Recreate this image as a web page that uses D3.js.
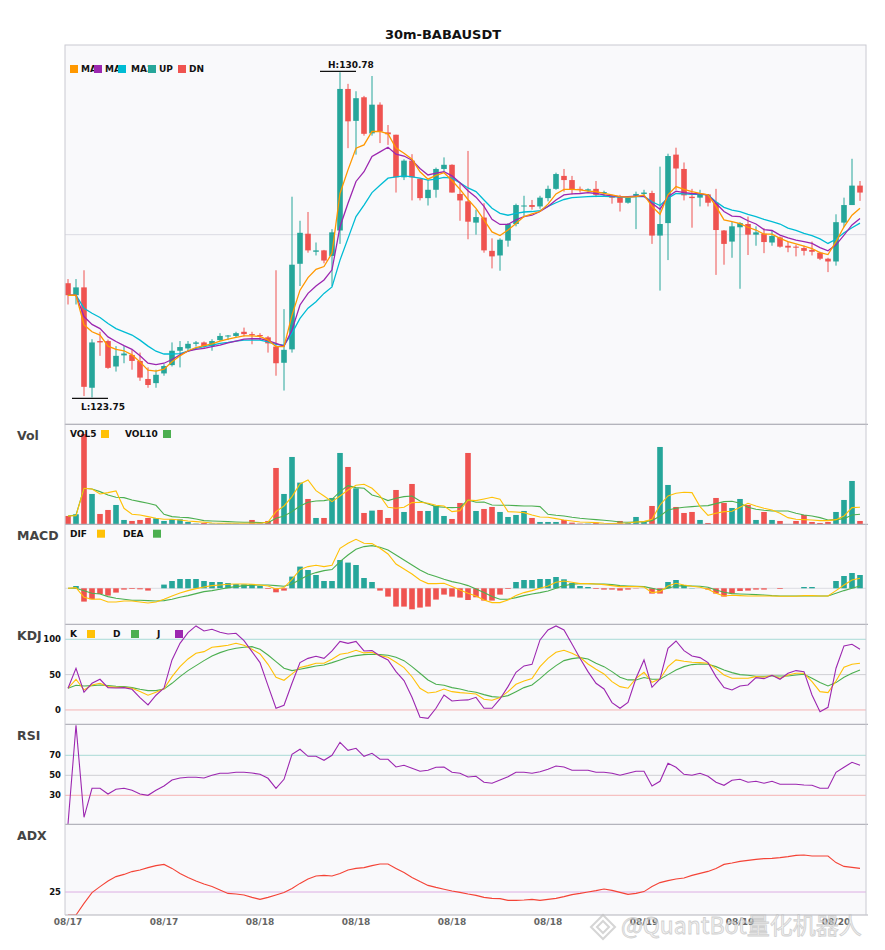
<!DOCTYPE html>
<html><head><meta charset="utf-8">
<script src="https://cdn.jsdelivr.net/npm/d3@7/dist/d3.min.js"></script>
<style>body{margin:0;background:#fff;} svg{display:block;font-family:"DejaVu Sans",sans-serif;}</style>
</head><body><svg id="c" width="885" height="950"></svg>
<script>
const chartTitle = "30m-BABAUSDT";
const opens = [126.22,125.96,126.13,123.96,124.97,124.97,124.42,124.66,124.67,124.54,124.15,124.06,124.27,124.45,124.76,124.81,124.91,124.94,124.86,124.99,125.07,125.08,125.17,125.12,125.10,125.05,124.85,124.50,124.79,126.64,127.29,126.90,126.93,126.81,127.36,130.42,129.73,130.24,129.46,130.08,129.48,129.43,128.51,128.87,128.48,128.06,128.24,128.69,128.78,128.15,127.99,127.53,127.64,126.92,126.82,127.14,127.50,127.88,127.91,127.88,128.06,128.26,128.54,128.45,128.26,128.22,128.26,128.17,128.09,128.09,127.96,128.11,128.15,128.17,127.25,127.52,129.00,128.69,128.09,128.07,128.14,127.96,127.36,127.12,127.43,127.50,127.27,127.29,127.10,127.21,127.03,127.01,126.98,126.94,126.88,126.75,126.69,127.53,127.91,128.33];
const highs = [126.31,126.31,126.50,125.01,125.17,125.00,124.86,124.86,124.78,124.72,124.40,124.35,124.47,124.94,124.97,124.97,124.97,124.96,125.01,125.14,125.10,125.17,125.26,125.17,125.14,125.08,126.50,125.66,128.09,127.57,127.76,127.10,126.94,127.39,130.78,130.53,130.37,130.27,130.70,130.13,129.64,129.43,128.90,129.01,128.48,128.45,128.72,128.94,128.79,128.38,129.08,127.81,127.95,127.19,127.19,127.52,127.94,128.11,128.02,128.11,128.33,128.61,128.69,128.54,128.31,128.27,128.43,128.22,128.13,128.13,128.09,128.20,128.24,128.22,128.74,129.02,129.15,128.83,128.26,128.24,128.14,128.26,127.37,127.55,127.54,127.66,127.45,127.41,127.37,127.23,127.12,127.05,127.03,127.12,126.90,126.77,127.71,128.07,128.91,128.43];
const lows = [125.76,125.76,123.78,123.75,124.65,124.37,124.31,124.49,124.35,124.11,123.96,123.96,124.22,124.42,124.40,124.74,124.85,124.80,124.76,124.97,124.99,125.05,125.07,124.90,124.99,124.72,124.22,123.90,124.72,126.16,126.88,126.82,126.65,126.16,127.07,129.14,129.00,129.41,129.41,129.25,129.21,128.18,128.45,128.01,128.01,127.90,128.07,128.63,128.18,127.57,127.17,127.27,126.88,126.54,126.49,127.01,127.45,127.66,127.81,127.83,127.99,128.24,128.20,128.14,128.18,128.20,128.08,128.09,127.94,127.77,127.94,127.39,128.08,127.07,126.06,126.72,128.24,128.01,127.42,127.88,127.88,126.40,126.62,126.77,126.10,126.83,127.03,126.87,127.03,126.99,126.89,126.80,126.82,126.82,126.72,126.46,126.60,127.43,127.91,128.00];
const closes = [125.96,126.13,123.98,124.94,124.94,124.39,124.65,124.70,124.54,124.18,124.02,124.24,124.43,124.76,124.84,124.91,124.94,124.86,124.97,125.08,125.09,125.14,125.12,125.10,125.08,124.92,124.49,124.78,126.62,127.31,126.93,126.93,126.71,127.32,130.42,129.72,130.22,129.45,130.08,129.50,129.44,128.51,128.87,128.51,128.06,128.24,128.69,128.78,128.18,128.01,127.55,127.65,126.93,126.80,127.16,127.50,127.91,127.90,127.87,128.07,128.26,128.58,128.45,128.24,128.24,128.25,128.13,128.19,128.07,127.96,128.07,128.15,128.18,127.25,127.50,128.97,128.70,128.12,128.06,128.14,127.96,127.37,127.07,127.45,127.52,127.27,127.32,127.11,127.24,127.01,126.99,126.99,126.92,126.90,126.75,126.69,127.54,127.91,128.33,128.18];
const ma5 = [125.96,125.96,125.32,125.17,125.10,124.86,124.79,124.76,124.67,124.52,124.34,124.32,124.36,124.52,124.65,124.76,124.83,124.87,124.91,124.97,125.01,125.05,125.08,125.08,125.07,124.99,124.85,124.85,125.53,126.07,126.34,126.52,126.58,126.87,128.16,128.67,129.14,129.21,129.50,129.50,129.45,129.14,129.03,128.90,128.63,128.47,128.55,128.61,128.44,128.25,128.03,127.84,127.59,127.33,127.25,127.37,127.51,127.66,127.72,127.77,127.93,128.15,128.25,128.25,128.24,128.21,128.20,128.16,128.13,128.09,128.08,128.09,128.13,127.88,127.71,128.13,128.31,128.25,128.20,128.16,128.13,127.88,127.59,127.55,127.51,127.43,127.37,127.28,127.28,127.19,127.12,127.07,127.02,126.97,126.88,126.84,127.12,127.44,127.69,127.84];
const ma10 = [125.96,125.96,125.50,125.33,125.24,125.06,124.96,124.87,124.79,124.65,124.49,124.46,124.49,124.57,124.67,124.75,124.79,124.81,124.85,124.88,124.93,124.97,125.01,125.02,125.02,124.98,124.92,124.86,125.21,125.75,126.00,126.16,126.29,126.51,127.44,127.95,128.42,128.63,128.96,129.06,129.16,129.01,128.97,128.88,128.70,128.56,128.60,128.63,128.54,128.39,128.22,128.08,127.88,127.60,127.49,127.49,127.59,127.66,127.69,127.77,127.88,128.02,128.13,128.15,128.16,128.18,128.16,128.13,128.11,128.09,128.09,128.10,128.10,127.95,127.82,128.09,128.21,128.18,128.16,128.15,128.13,127.95,127.77,127.67,127.66,127.57,127.50,127.38,127.36,127.26,127.20,127.15,127.12,127.08,126.99,126.92,127.05,127.26,127.48,127.62];
const ma20 = [125.96,125.96,125.68,125.57,125.48,125.35,125.24,125.17,125.10,124.99,124.86,124.75,124.69,124.69,124.70,124.75,124.81,124.85,124.88,124.92,124.94,124.97,124.99,124.99,124.99,124.95,124.90,124.88,125.14,125.46,125.68,125.82,126.00,126.14,126.72,127.19,127.66,127.91,128.18,128.34,128.49,128.52,128.54,128.52,128.49,128.45,128.47,128.51,128.49,128.39,128.28,128.20,128.02,127.84,127.73,127.69,127.73,127.76,127.77,127.79,127.88,127.96,128.03,128.07,128.08,128.09,128.10,128.10,128.09,128.08,128.08,128.09,128.10,127.98,127.90,128.06,128.16,128.15,128.14,128.14,128.13,127.98,127.86,127.80,127.77,127.71,127.66,127.60,127.55,127.50,127.41,127.36,127.30,127.25,127.18,127.08,127.17,127.31,127.42,127.52];
const volumes = [833,1000,9033,3033,1033,1433,1933,433,333,433,633,600,333,500,500,233,67,133,67,67,67,67,33,433,100,333,5633,3033,6733,4167,2533,633,633,2633,7133,5733,3600,1133,1367,1433,633,3433,1233,4033,1333,1333,1833,833,533,2133,7133,1333,1533,1733,1233,733,933,1333,633,233,233,233,433,167,67,67,167,33,33,333,133,733,233,1833,7733,3933,1733,1133,1233,433,133,2633,2133,1633,2533,1933,433,1233,433,333,33,333,933,233,133,233,1233,2433,4333,333];
const vol5 = [833,867,3600,3533,3033,3167,3333,1600,1000,933,767,600,500,500,433,333,267,200,133,100,100,100,100,100,100,233,1267,1833,2767,4033,4433,3367,2833,2267,2833,3433,3900,4000,3600,2833,1700,1600,1700,2167,2200,2100,1900,1833,1267,1367,2433,2367,2533,2700,2500,1267,1233,1167,933,733,700,567,433,333,233,200,167,100,67,100,133,233,267,500,1933,2833,3100,3200,3167,1767,900,1100,1267,1300,1700,2100,1833,1600,1433,1100,667,500,467,433,367,367,467,833,1667,1700];
const vol10 = [833,933,3600,3533,3267,2933,2700,2667,2433,2267,2100,1900,1000,767,700,667,533,367,333,300,267,233,200,200,167,167,600,833,1267,1833,2200,2333,2367,2500,3267,3867,3667,3600,2933,2700,2367,2600,2767,2833,2333,2033,1767,1700,1667,1700,2433,2200,2233,1933,1900,1900,1867,1833,1833,1767,1000,900,833,700,600,533,467,400,333,233,200,233,267,367,833,1433,1600,1700,1767,1833,1867,2067,2267,2300,2100,1700,1500,1400,1333,1333,1333,1100,933,833,667,433,467,567,933,1000];
const macdHist = [0,0.023,-0.133,-0.11,-0.057,-0.073,-0.043,-0.013,-0.007,-0.01,-0.023,0,0.037,0.073,0.093,0.093,0.093,0.073,0.063,0.063,0.053,0.043,0.04,0.04,0.023,-0.007,-0.04,-0.023,0.117,0.217,0.183,0.133,0.073,0.073,0.283,0.257,0.233,0.103,0.063,-0.023,-0.083,-0.183,-0.183,-0.21,-0.193,-0.183,-0.113,-0.063,-0.083,-0.093,-0.117,-0.09,-0.123,-0.123,-0.063,-0.007,0.063,0.083,0.083,0.093,0.093,0.113,0.09,0.053,0.023,0.013,-0.007,-0.013,-0.013,-0.023,-0.013,-0.003,0,-0.053,-0.053,0.063,0.083,0.033,0.003,0,-0.013,-0.053,-0.083,-0.053,-0.027,-0.023,-0.013,-0.013,0,-0.007,0,0,0.013,0.013,0,0,0.073,0.123,0.153,0.133];
const dif = [0,0.007,-0.09,-0.11,-0.107,-0.137,-0.137,-0.127,-0.127,-0.137,-0.147,-0.137,-0.11,-0.077,-0.047,-0.023,-0.003,0.013,0.027,0.033,0.04,0.043,0.043,0.04,0.033,0.023,-0.007,0.007,0.09,0.187,0.217,0.23,0.217,0.23,0.4,0.45,0.49,0.45,0.447,0.4,0.343,0.243,0.193,0.143,0.083,0.047,0.047,0.05,0.017,-0.017,-0.05,-0.077,-0.117,-0.143,-0.143,-0.117,-0.073,-0.043,-0.023,0,0.023,0.06,0.073,0.06,0.047,0.047,0.043,0.037,0.027,0.017,0.017,0.017,0.013,-0.043,-0.033,0.023,0.05,0.033,0.02,0.01,-0.01,-0.05,-0.077,-0.07,-0.073,-0.077,-0.077,-0.077,-0.077,-0.08,-0.08,-0.08,-0.073,-0.073,-0.077,-0.077,-0.023,0.033,0.083,0.1];
const dea = [0,0,-0.025,-0.05,-0.057,-0.083,-0.1,-0.11,-0.12,-0.12,-0.123,-0.127,-0.123,-0.11,-0.09,-0.073,-0.053,-0.033,-0.023,-0.01,0.007,0.017,0.027,0.03,0.033,0.033,0.027,0.02,0.043,0.087,0.13,0.157,0.177,0.187,0.267,0.333,0.39,0.417,0.427,0.41,0.383,0.333,0.283,0.233,0.183,0.143,0.117,0.09,0.067,0.05,0.027,-0.007,-0.043,-0.083,-0.11,-0.11,-0.093,-0.073,-0.057,-0.043,-0.027,0,0.027,0.04,0.047,0.047,0.043,0.043,0.037,0.027,0.023,0.02,0.017,0,-0.017,0,0.023,0.027,0.023,0.02,0.01,-0.017,-0.04,-0.053,-0.057,-0.06,-0.063,-0.067,-0.073,-0.077,-0.077,-0.077,-0.077,-0.077,-0.077,-0.077,-0.05,-0.023,0,0.023];
const kLine = [30.7,43.4,28.3,35.4,37.7,33,32,32,30.7,26,20.8,25,30,47.2,61.3,72.2,80.2,82.5,88.7,90,91.5,94.3,91.5,85.8,79.2,64.6,46.2,42,51,60,62.7,66,66,71.7,78.8,80.7,84.4,80.7,81.6,76.9,74.5,67.5,60,47,30.7,24,25.5,29.7,25.9,24.5,23.6,22.6,15.1,13.7,17.5,25.9,36.3,41,44.3,61.3,73.1,81.6,84.4,80.2,74.5,65.1,57.5,51,40.1,33,30.7,44.8,53.3,39.2,43.9,61.3,70.8,68.9,67.5,67,66,58.5,49.5,44.8,44.8,44.8,47.2,46.2,49,44.8,49.5,51.9,51.9,40.1,25.9,24.5,41,60.4,64.6,66];
const dLine = [30.7,34.9,34,34.4,35.4,34.4,33.5,33,31.6,29.2,27.4,27.4,29.5,37.7,47.2,55.7,62.7,69.8,76.4,81.1,84.9,87.3,88.7,89.6,85.8,77.8,68.4,59,55.7,57.5,59.9,62.3,63.7,67,70.8,74.5,76.9,78.3,78.8,78.3,77.4,74.5,69.8,61.3,51.9,42.5,36.3,34.9,31.6,29.7,26.9,25,21.7,18.9,17.9,20.3,25.9,31.6,35.4,44.3,54.2,62.7,69.8,72.6,74.1,72.2,66,61.3,54.2,46.2,42.5,42.5,45.8,43.4,43.4,50,56.6,61.3,64.2,65.1,64.6,61.3,56.6,52.8,50,49,47.6,47.6,48.1,48.1,48.1,49.5,50.5,44.8,38.7,34,38.7,46.2,51.9,56.6];
const jLine = [30.7,59,25,37.7,43.4,31.6,31.1,31.6,29.2,17.5,7.1,20.8,31,70.8,94.3,109.4,118.9,111.8,114.2,109.9,107.5,108.5,98.1,82.5,67,34.4,2.4,6.6,37.7,67,73,76,73,83.5,97,94.3,97,83.5,84,76.4,70.8,54.2,41.5,17.9,-10.4,-11.8,2.4,21.2,12.7,13.7,14.2,17.9,2.4,2.4,15.6,33,53.3,62.3,64.6,99.1,113.2,118.9,113.2,93.4,73.1,54.2,37.7,29.7,10.4,2.4,10.8,44.8,70.8,32.1,43.9,87.3,97.6,84,76.4,74.1,67,47.2,31.6,28.3,34,35.4,45.8,44.3,49,43.4,51.9,55.7,54.2,21.2,-2.4,3.8,59,90.6,92.9,85.8];
const rsi = [1.3,100,8,37,37,31.3,36,37,35,31.3,30,35,39.3,45.3,47.3,48,48,47.3,50,52,52,53,53,52.3,51,47,37,46,71,76,69,69,65,70,83,75,77,69,72,66,66,58.3,60,57,54,55,58,58.3,53,52,48.3,49,43,42,45.3,48.6,53,53,52,53.6,56,59.3,58.3,55,55,55,53,53,52,50,52,54,54,39.3,44,62,58,51,50,52,49,43,40,45,46,43,44,42,44,41,41,41,40.3,40,37,37,53,58,63,60];
const adx = [13.5,13.5,19.3,24.7,27.7,30.5,32.7,33.8,35.2,36,37.2,38.2,38.8,36.8,34.3,32.3,30.5,29,27.7,26,24.3,24,23.5,22.3,21.3,22.3,23.5,24.7,26.8,29.3,31.5,33,33.3,33,34.3,36,36.8,37.2,38.2,39,39,36.8,34.7,32.3,30.2,28.3,27.3,26.4,25.5,24.8,24,23.3,22.3,21.8,21.7,20.8,20.8,21,21.3,20.8,21.3,21.8,22.7,23.7,24.3,25,25.7,26.5,25.8,24.8,23.8,24.3,25.2,27.7,29.7,30.7,31.5,32,33.3,34.3,35.3,36.8,38.8,39.5,40.3,40.8,41.3,41.7,41.8,42.2,42.7,43.3,43.5,43,43,43,39.7,37.8,37.3,36.8];
const xTickIdx = [0,12,24,36,48,60,72,84,96];
const xTickLabels = ["08/17","08/17","08/18","08/18","08/18","08/18","08/19","08/19","08/20"];
const kdjRefs = [100,50,0];
const rsiRefs = [70,50,30];
const adxRefs = [25];

const UP="#26a69a", DN="#ef5350";
const C_MA5="#ff9800", C_MA10="#9c27b0", C_MA20="#00bcd4", C_Y="#ffc107", C_G="#4caf50", C_P="#9c27b0", C_ADX="#f44336";
const LX=65, RX=866;
const P = {main:[45,424.3], vol:[424.3,524.3], macd:[524.3,624.3], kdj:[624.3,724.3], rsi:[724.3,824.3], adx:[824.3,915]};

const svg = d3.select("#c");
const n = closes.length;
const x = d3.scaleBand().domain(d3.range(n)).range([64,864]).paddingInner(0.3).paddingOuter(0.15);
const cx = i => x(i) + x.bandwidth()/2;
const bw = x.bandwidth();

const yMain = d3.scaleLinear().domain([123.17,131.37]).range([P.main[1],P.main[0]]);
const yVol = d3.scaleLinear().domain([0,10000]).range([P.vol[1],P.vol[0]]);
const yMacd = d3.scaleLinear().domain([-0.36,0.64]).range([P.macd[1],P.macd[0]]);
const yKdj = d3.scaleLinear().domain([-20.3,121.2]).range([P.kdj[1],P.kdj[0]]);
const yRsi = d3.scaleLinear().domain([1,101]).range([P.rsi[1],P.rsi[0]]);
const yAdx = d3.scaleLinear().domain([13.5,58.85]).range([P.adx[1],P.adx[0]]);

svg.append("text").attr("x",443).attr("y",39).attr("text-anchor","middle")
  .attr("font-size",13).attr("font-weight","bold").attr("fill","#111").text(chartTitle);

const defs = svg.append("defs");
Object.entries(P).forEach(([k,[t,b]])=>{
  svg.append("rect").attr("x",LX).attr("y",t).attr("width",RX-LX).attr("height",b-t).attr("fill","#f9f9fb");
  defs.append("clipPath").attr("id","clip-"+k).append("rect").attr("x",LX).attr("y",t).attr("width",RX-LX).attr("height",b-t);
});
const layer = k => svg.append("g").attr("clip-path",`url(#clip-${k})`);
const line = (yS) => d3.line().x((d,i)=>cx(i)).y(d=>yS(d));

// main
const gm = layer("main");
const midP = d3.mean(yMain.domain());
gm.append("line").attr("x1",LX).attr("x2",RX).attr("y1",yMain(midP)).attr("y2",yMain(midP)).attr("stroke","#dcdce4");
const candles = gm.append("g").selectAll("g").data(d3.range(n)).join("g");
candles.append("line").attr("x1",cx).attr("x2",cx).attr("y1",i=>yMain(highs[i])).attr("y2",i=>yMain(lows[i]))
  .attr("stroke",i=>closes[i]>=opens[i]?UP:DN).attr("stroke-width",1);
candles.append("rect").attr("x",i=>x(i)).attr("width",bw)
  .attr("y",i=>yMain(Math.max(opens[i],closes[i])))
  .attr("height",i=>Math.max(1,yMain(Math.min(opens[i],closes[i]))-yMain(Math.max(opens[i],closes[i]))))
  .attr("fill",i=>closes[i]>=opens[i]?UP:DN);
[[ma20,C_MA20],[ma10,C_MA10],[ma5,C_MA5]].forEach(([arr,c])=>{
  gm.append("path").attr("d",line(yMain)(arr)).attr("fill","none").attr("stroke",c).attr("stroke-width",1.3);
});
const hiI = d3.maxIndex(highs), loI = d3.minIndex(lows);
gm.append("line").attr("x1",cx(hiI)-20).attr("x2",cx(hiI)+16).attr("y1",yMain(highs[hiI])-1).attr("y2",yMain(highs[hiI])-1).attr("stroke","#111").attr("stroke-width",1.2);
gm.append("text").attr("x",cx(hiI)-12).attr("y",yMain(highs[hiI])-3.8).attr("font-size",9).attr("font-weight","bold").attr("fill","#111").text("H:"+highs[hiI].toFixed(2));
gm.append("line").attr("x1",cx(loI)-20).attr("x2",cx(loI)+16).attr("y1",yMain(lows[loI])+1).attr("y2",yMain(lows[loI])+1).attr("stroke","#111").attr("stroke-width",1.2);
gm.append("text").attr("x",cx(loI)-11).attr("y",yMain(lows[loI])+12.5).attr("font-size",9).attr("font-weight","bold").attr("fill","#111").text("L:"+lows[loI].toFixed(2));

// volume
const gv = layer("vol");
gv.selectAll("rect").data(volumes).join("rect").attr("x",(d,i)=>x(i)).attr("width",bw)
  .attr("y",d=>yVol(d)).attr("height",d=>yVol(0)-yVol(d)).attr("fill",(d,i)=>closes[i]>=opens[i]?UP:DN);
gv.append("path").attr("d",line(yVol)(vol10)).attr("fill","none").attr("stroke",C_G).attr("stroke-width",1.1);
gv.append("path").attr("d",line(yVol)(vol5)).attr("fill","none").attr("stroke",C_Y).attr("stroke-width",1.1);

// MACD
const gc = layer("macd");
gc.append("line").attr("x1",LX).attr("x2",RX).attr("y1",yMacd(0)).attr("y2",yMacd(0)).attr("stroke","#dddde3");
gc.selectAll("rect").data(macdHist).join("rect").attr("x",(d,i)=>x(i)).attr("width",bw)
  .attr("y",d=>yMacd(Math.max(0,d))).attr("height",d=>Math.abs(yMacd(d)-yMacd(0))).attr("fill",d=>d>=0?UP:DN);
gc.append("path").attr("d",line(yMacd)(dea)).attr("fill","none").attr("stroke",C_G).attr("stroke-width",1.1);
gc.append("path").attr("d",line(yMacd)(dif)).attr("fill","none").attr("stroke",C_Y).attr("stroke-width",1.1);

const refColor = v => (v===100||v===70)?"#a9dad6":(v===50?"#cfcfd4":(v===25?"#dcaee3":"#f5b3b3"));
function refs(yS,vals){
  const g = svg.append("g");
  vals.forEach(v=>{
    g.append("line").attr("x1",LX).attr("x2",RX).attr("y1",yS(v)).attr("y2",yS(v)).attr("stroke",refColor(v));
    g.append("text").attr("x",61).attr("y",yS(v)).attr("dy","0.35em").attr("text-anchor","end")
      .attr("font-size",8.5).attr("font-weight","bold").attr("fill","#111").text(v);
  });
}
refs(yKdj,kdjRefs); refs(yRsi,rsiRefs); refs(yAdx,adxRefs);

const gk = layer("kdj");
gk.append("path").attr("d",line(yKdj)(dLine)).attr("fill","none").attr("stroke",C_G).attr("stroke-width",1.1);
gk.append("path").attr("d",line(yKdj)(kLine)).attr("fill","none").attr("stroke",C_Y).attr("stroke-width",1.1);
gk.append("path").attr("d",line(yKdj)(jLine)).attr("fill","none").attr("stroke",C_P).attr("stroke-width",1.1);

const gr = layer("rsi");
gr.append("path").attr("d",line(yRsi)(rsi)).attr("fill","none").attr("stroke",C_P).attr("stroke-width",1.1);

const ga = layer("adx");
ga.append("path").attr("d",line(yAdx)(adx)).attr("fill","none").attr("stroke",C_ADX).attr("stroke-width",1.1);

// frames
const fr = svg.append("g");
fr.append("rect").attr("x",LX).attr("y",P.main[0]).attr("width",RX-LX).attr("height",P.main[1]-P.main[0]).attr("fill","none").attr("stroke","#cacad2");
[P.vol[0],P.macd[0],P.kdj[0],P.rsi[0],P.adx[0],P.adx[1]].forEach(yv=>{
  fr.append("line").attr("x1",LX).attr("x2",RX+2).attr("y1",yv).attr("y2",yv).attr("stroke","#b4b4bc").attr("stroke-width",1.2);
});
fr.append("line").attr("x1",LX).attr("x2",LX).attr("y1",P.vol[0]).attr("y2",P.adx[1]).attr("stroke","#cacad2");
fr.append("line").attr("x1",RX).attr("x2",RX).attr("y1",P.vol[0]).attr("y2",P.adx[1]).attr("stroke","#cacad2");

[["Vol",P.vol[0]],["MACD",P.macd[0]],["KDJ",P.kdj[0]],["RSI",P.rsi[0]],["ADX",P.adx[0]]].forEach(([t,yt])=>{
  svg.append("text").attr("x",17).attr("y",yt+15.5).attr("font-size",12.5).attr("font-weight","bold").attr("fill","#444").text(t);
});

// legends: in the main legend each label runs under the next swatch and is cut where that swatch ends
let legId = 0;
function legend(items, yc){
  const g = svg.append("g");
  items.forEach((it,k)=>{
    const t = g.append("text").attr("x",it.tx).attr("y",yc).attr("dy","0.36em").attr("font-size",9).attr("font-weight","bold").attr("fill","#111").text(it.label);
    const nxt = items[k+1];
    if (it.clip && nxt){
      const id = "leg"+(legId++);
      defs.append("clipPath").attr("id",id).append("rect").attr("x",it.tx-1).attr("y",yc-8).attr("width",nxt.sx+8-(it.tx-1)).attr("height",16);
      t.attr("clip-path",`url(#${id})`);
    }
  });
  items.forEach(it=>g.append("rect").attr("x",it.sx).attr("y",yc-4).attr("width",8).attr("height",8).attr("fill",it.color));
}
legend([{label:"MA5",color:C_MA5,sx:70,tx:81,clip:true},{label:"MA10",color:C_MA10,sx:94,tx:105,clip:true},{label:"MA20",color:C_MA20,sx:118,tx:131,clip:true},
        {label:"UP",color:UP,sx:148,tx:159},{label:"DN",color:DN,sx:178,tx:189}], 69);
legend([{label:"VOL5",color:C_Y,sx:101,tx:70},{label:"VOL10",color:C_G,sx:163,tx:125}], 434);
legend([{label:"DIF",color:C_Y,sx:97,tx:70},{label:"DEA",color:C_G,sx:153,tx:123}], 533.7);
legend([{label:"K",color:C_Y,sx:87,tx:70},{label:"D",color:C_G,sx:131,tx:113},{label:"J",color:C_P,sx:175,tx:157}], 634);

svg.append("g").selectAll("text").data(xTickIdx).join("text")
  .attr("x",i=>cx(i)).attr("y",925).attr("text-anchor","middle").attr("font-size",9).attr("font-weight","bold").attr("fill","#666")
  .text((d,k)=>xTickLabels[k]);

// watermark overlay seen in the reference
const wm = svg.append("g").attr("opacity",0.7);
wm.append("path").attr("d","M603,915 L615,927 L603,939 L591,927 Z M603,921 L609,927 L603,933 L597,927 Z").attr("fill","none").attr("stroke","#c4c4c4").attr("stroke-width",2);
wm.append("text").attr("x",621).attr("y",934).attr("font-family","'Noto Sans CJK SC','Noto Sans',sans-serif").attr("font-size",23)
  .attr("fill","#ececec").attr("stroke","#bdbdbd").attr("stroke-width",0.8).text("@QuantBot量化机器人");
</script>
</body></html>
